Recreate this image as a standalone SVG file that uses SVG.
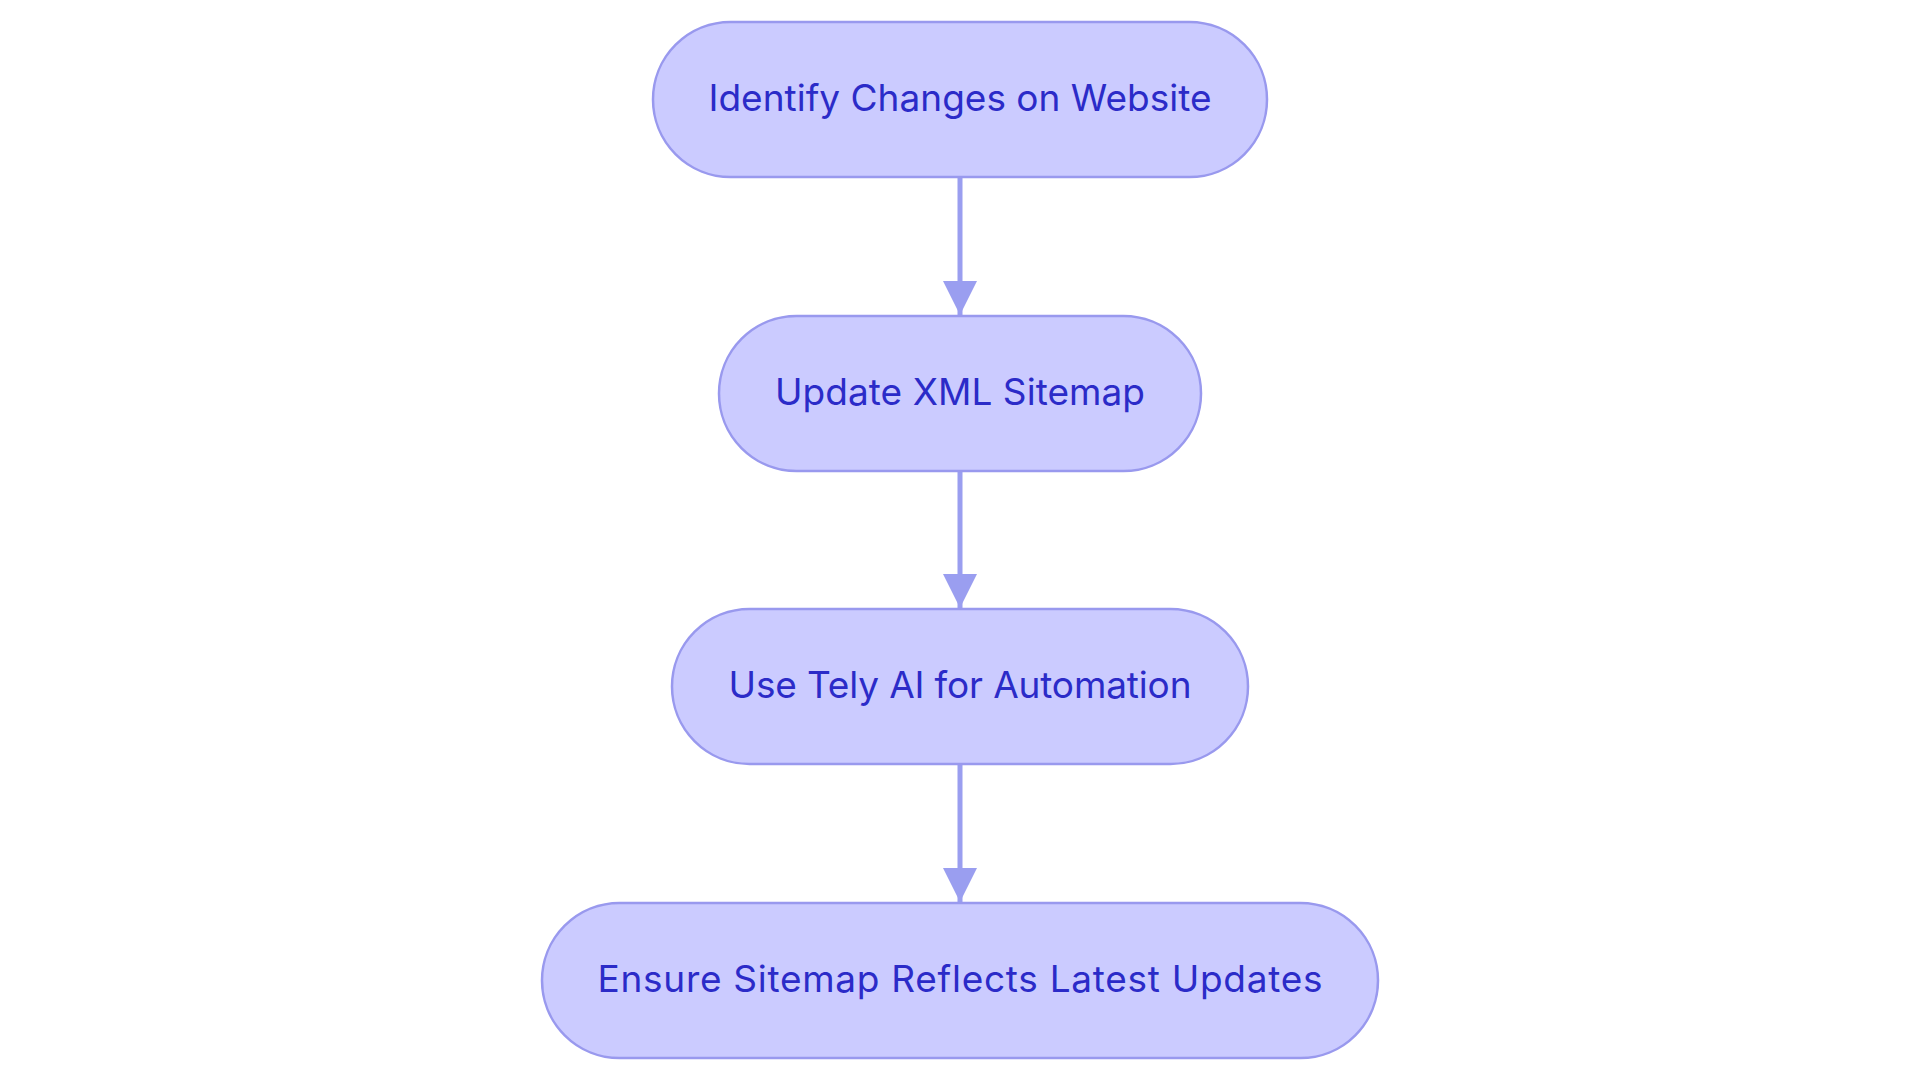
<svg xmlns="http://www.w3.org/2000/svg" width="1920" height="1083" viewBox="0 0 1920 1083">
<style>
.node rect{fill:#CBCBFF;stroke:#9999EE;stroke-width:2.5}
.node text{fill:#2B2BC8;font-family:Inter,"Noto Sans",sans-serif;font-size:37px;text-anchor:middle;dominant-baseline:central}
.edge{stroke:#9A9EF0;stroke-width:5;fill:none}
</style>
<defs>
<marker id="arr" viewBox="0 0 10 10" refX="10" refY="5" markerWidth="6.8" markerHeight="6.8" markerUnits="strokeWidth" orient="auto">
<path d="M0,0 L10,5 L0,10 z" fill="#9A9EF0"/>
</marker>
</defs>
<rect width="1920" height="1083" fill="#FFFFFF"/>
<g id="connectors">
<path class="edge" d="M960,178 L960,315" marker-end="url(#arr)"/>
<path class="edge" d="M960,471 L960,608" marker-end="url(#arr)"/>
<path class="edge" d="M960,765 L960,902" marker-end="url(#arr)"/>
</g>
<g id="node1" class="node">
<rect x="653" y="22" width="614" height="155" rx="77.5" ry="77.5"/>
<text x="960" y="97.5" textLength="503">Identify Changes on Website</text>
</g>
<g id="node2" class="node">
<rect x="719" y="316" width="482" height="155" rx="77.5" ry="77.5"/>
<text x="960" y="391.5" textLength="370">Update XML Sitemap</text>
</g>
<g id="node3" class="node">
<rect x="672" y="609" width="576" height="155" rx="77.5" ry="77.5"/>
<text x="960" y="684.5" textLength="463">Use Tely AI for Automation</text>
</g>
<g id="node4" class="node">
<rect x="542" y="903" width="836" height="155" rx="77.5" ry="77.5"/>
<text x="960" y="978.5" textLength="725">Ensure Sitemap Reflects Latest Updates</text>
</g>
</svg>
